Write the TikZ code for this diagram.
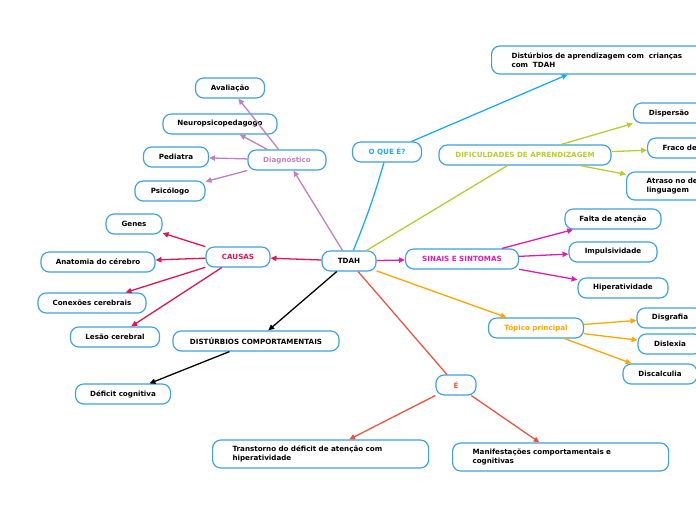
\documentclass[tikz,border=0pt]{standalone}
\usepackage{fontspec}
\setmainfont{DejaVu Sans}
\usetikzlibrary{arrows.meta}

\definecolor{boxblue}{RGB}{60,160,225}
\definecolor{diagcol}{RGB}{192,128,192}
\definecolor{oquecol}{RGB}{30,170,240}
\definecolor{dificcol}{RGB}{184,204,48}
\definecolor{sinaiscol}{RGB}{222,30,170}
\definecolor{topicocol}{RGB}{255,165,0}
\definecolor{ecol}{RGB}{232,85,65}
\definecolor{causascol}{RGB}{225,20,80}

\tikzset{
  box/.style={draw=boxblue, line width=1pt, rounded corners=7pt, fill=white,
    minimum height=0.6cm, inner sep=2pt, font=\fontsize{6.1}{7.6}\selectfont\bfseries},
  widebox/.style={box, minimum height=0.84cm, align=left, text width=#1,
    inner xsep=0.6cm, anchor=west},
  link/.style={line width=1.1pt, -{Triangle[length=5pt,width=4.5pt]}},
}

\begin{document}
\begin{tikzpicture}[x=0.03cm, y=-0.03cm]
            \useasboundingbox (0,0) rectangle (696,520);

            \node[box, minimum width=1.62cm] (tdah) at (349,261) {TDAH};

            \node[box, text=oquecol, minimum width=2.07cm] (oque) at (387,152) {O QUE É?};
            \node[widebox=5.4cm] (aprend) at (491,60) {Distúrbios de aprendizagem com\ \ crianças\\com\ \ TDAH};

            \node[box, text=dificcol, minimum width=5.16cm] (dific) at (525,155) {DIFICULDADES DE APRENDIZAGEM};
            \node[box, minimum width=2.13cm] (dispersao) at (669,113) {Dispersão};
            \node[box, align=left, text width=2.4cm, inner xsep=0.45cm, anchor=west] (fraco) at (647,148) {Fraco de};
            \node[widebox=2.4cm] (atraso) at (626,186) {Atraso no de\\linguagem};

            \node[box, text=sinaiscol, minimum width=3.39cm] (sinais) at (462,259) {SINAIS E SINTOMAS};
            \node[box, minimum width=2.88cm] (falta) at (613,219) {Falta de atenção};
            \node[box, minimum width=2.64cm] (impuls) at (613,252) {Impulsividade};
            \node[box, minimum width=2.7cm] (hiper) at (623,288) {Hiperatividade};

            \node[box, text=topicocol, minimum width=2.85cm] (topico) at (536,328) {Tópico principal};
            \node[box, minimum width=1.98cm] (disgrafia) at (670,318) {Disgrafia};
            \node[box, minimum width=1.92cm] (dislexia) at (670,344) {Dislexia};
            \node[box, minimum width=2.22cm] (discalc) at (660,374) {Discalculia};

            \node[box, text=ecol, minimum width=1.2cm] (e) at (456,385) {É};
            \node[widebox=5.28cm] (transt) at (212,454) {Transtorno do déficit de atenção com\\hiperatividade};
            \node[widebox=5.28cm] (manif) at (452,457) {Manifestações comportamentais e\\cognitivas};

            \node[box, minimum width=4.98cm] (disturb) at (256,341) {DISTÚRBIOS COMPORTAMENTAIS};
            \node[box, minimum width=2.85cm] (deficit) at (123,394) {Déficit cognitiva};

            \node[box, text=causascol, minimum width=1.92cm] (causas) at (238,257) {CAUSAS};
            \node[box, minimum width=1.68cm] (genes) at (134,224) {Genes};
            \node[box, minimum width=3.42cm] (anatomia) at (98,262) {Anatomia do cérebro};
            \node[box, minimum width=3.24cm] (conexoes) at (92,303) {Conexões cerebrais};
            \node[box, minimum width=2.67cm] (lesao) at (115,337) {Lesão cerebral};

            \node[box, text=diagcol, minimum width=2.34cm] (diag) at (287,160) {Diagnóstico};
            \node[box, minimum width=2.07cm] (avaliacao) at (230,88) {Avaliação};
            \node[box, minimum width=3.42cm] (neuro) at (220,124) {Neuropsicopedagogo};
            \node[box, minimum width=1.95cm] (pediatra) at (176,157) {Pediatra};
            \node[box, minimum width=2.1cm] (psicologo) at (170,191) {Psicólogo};

            % ramos principais
            \draw[link, -, oquecol] (tdah) to[bend right=3] (oque);
            \draw[link, oquecol] (oque) -- (aprend);
            \draw[link, -, dificcol] (tdah) -- (dific);
            \draw[link, sinaiscol] (tdah) -- (sinais);
            \draw[link, topicocol] (tdah) -- (topico);
            \draw[link, -, ecol] (tdah) -- (e);
            \draw[link] (tdah) -- (disturb);
            \draw[link, causascol] (tdah) -- (causas);
            \draw[link, diagcol] (tdah) -- (diag);

            % folhas
            \foreach \leaf in {dispersao, fraco, atraso}
                \draw[link, dificcol] (dific) -- (\leaf);
            \foreach \leaf in {falta, impuls, hiper}
                \draw[link, sinaiscol] (sinais) -- (\leaf);
            \foreach \leaf in {disgrafia, dislexia, discalc}
                \draw[link, topicocol] (topico) -- (\leaf);
            \foreach \leaf in {transt, manif}
                \draw[link, ecol] (e) -- (\leaf);
            \draw[link] (disturb) -- (deficit);
            \foreach \leaf in {genes, anatomia, conexoes, lesao}
                \draw[link, causascol] (causas) -- (\leaf);
            \foreach \leaf in {avaliacao, neuro, pediatra, psicologo}
                \draw[link, diagcol] (diag) -- (\leaf);
\end{tikzpicture}
\end{document}
